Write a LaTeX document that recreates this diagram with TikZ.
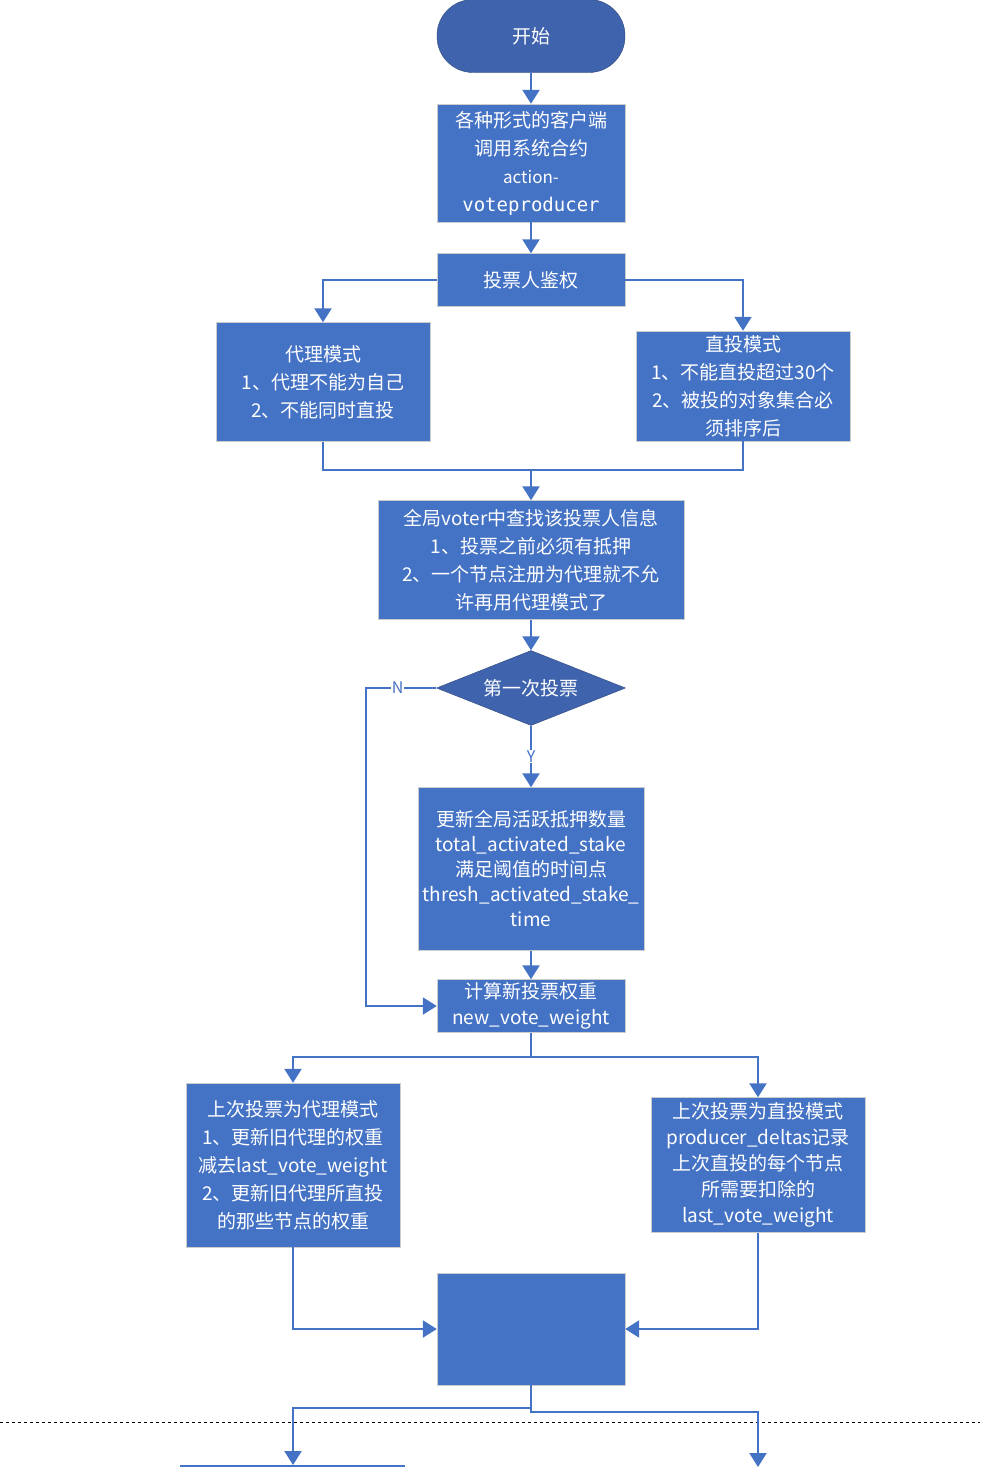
\documentclass[tikz,border=0pt]{standalone}
\usepackage{fontspec}
\setmainfont{Noto Sans CJK SC}
\newfontfamily\monof{DejaVu Sans Mono}
\usetikzlibrary{shapes.geometric,arrows.meta}
\definecolor{bx}{HTML}{4472C4}
\definecolor{dk}{HTML}{3F63AD}
\begin{document}
\begin{tikzpicture}[x=1pt,y=-1pt,
 box/.style={draw=black!20,fill=bx,text=white,align=center,inner sep=0pt,font=\fontsize{19}{28}\selectfont},
 ar/.style={draw=bx,line width=2.2pt,-{Triangle[length=14pt,width=17pt]}},
 ln/.style={draw=bx,line width=2.2pt}]
\useasboundingbox (0,0) rectangle (980,1467);
\node[box,draw=dk!70!black,fill=dk,rounded corners=36pt,minimum width=188pt,minimum height=73pt] (start) at (531,36) {开始};
\node[box,minimum width=188pt,minimum height=118pt] (b1) at (531,163) {各种形式的客户端\\调用系统合约\\{\fontsize{17}{28}\selectfont action-}\\{\monof\fontsize{19}{28}\selectfont voteproducer}};
\node[box,minimum width=188pt,minimum height=53pt] (b2) at (531,280) {投票人鉴权};
\node[box,minimum width=214pt,minimum height=119pt] (px) at (323,382) {代理模式\\1、代理不能为自己\\2、不能同时直投};
\node[box,minimum width=214pt,minimum height=110pt] (dr) at (743,386) {直投模式\\1、不能直投超过30个\\2、被投的对象集合必\\须排序后};
\node[box,minimum width=306pt,minimum height=119pt] (gl) at (531,560) {全局voter中查找该投票人信息\\1、投票之前必须有抵押\\2、一个节点注册为代理就不允\\许再用代理模式了};
\node[box,draw=dk!70!black,fill=dk,diamond,aspect=2.5,minimum width=189pt,minimum height=75pt] (dm) at (531,688) {第一次投票};
\node[box,minimum width=226pt,minimum height=163pt,font=\fontsize{19}{25}\selectfont] (up) at (531,869) {更新全局活跃抵押数量\\total\_activated\_stake\\满足阈值的时间点\\thresh\_activated\_stake\_\\time};
\node[box,minimum width=188pt,minimum height=53pt,font=\fontsize{19}{26}\selectfont] (calc) at (531,1006) {计算新投票权重\\new\_vote\_weight};
\node[box,minimum width=214pt,minimum height=164pt] (lp) at (293,1165) {上次投票为代理模式\\1、更新旧代理的权重\\减去last\_vote\_weight\\2、更新旧代理所直投\\的那些节点的权重};
\node[box,minimum width=214pt,minimum height=135pt,font=\fontsize{19}{26}\selectfont] (ld) at (758,1165) {上次投票为直投模式\\producer\_deltas记录\\上次直投的每个节点\\所需要扣除的\\last\_vote\_weight};
\node[box,minimum width=188pt,minimum height=112pt] (bl) at (531,1329) {};
\coordinate (e1) at (293,1465);
\coordinate (e2) at (758,1467);
\draw[black,dashed,line width=1pt] (0,1422) -- (980,1422);
\draw[bx,line width=2pt] (180,1466) -- (405,1466);
\draw[ar] (start) -- (b1);
\draw[ar] (b1) -- (b2);
\draw[ar] (b2.west) -| (px.north);
\draw[ar] (b2.east) -| (dr.north);
\draw[ln] (px.south) -- (323,470) -- (531,470);
\draw[ln] (dr.south) -- (743,470) -- (531,470);
\draw[ar] (531,470) -- (gl.north);
\draw[ar] (gl) -- (dm);
\draw[ar] (dm.south) -- node[fill=white,text=bx,font=\fontsize{16}{16}\selectfont,inner sep=1pt,pos=0.5]{Y} (up.north);
\draw[ar] (dm.west) -- node[fill=white,text=bx,font=\fontsize{16}{16}\selectfont,inner sep=1pt,pos=0.55]{N} (366,688) |- (calc.west);
\draw[ar] (up) -- (calc);
\draw[ar] (calc.south) -- (531,1057) -| (lp.north);
\draw[ar] (531,1057) -| (ld.north);
\draw[ar] (lp.south) |- (bl.west);
\draw[ar] (ld.south) |- (bl.east);
\draw[ln] (bl.south) -- (531,1408);
\draw[ar] (531,1408) -| (e1);
\draw[ar] (531,1408) -- (531,1412) -| (e2);
\end{tikzpicture}
\end{document}
